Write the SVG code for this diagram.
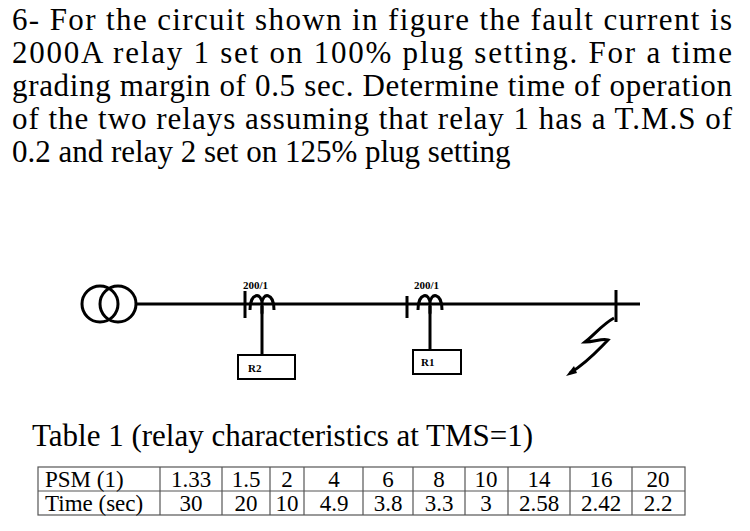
<svg xmlns="http://www.w3.org/2000/svg" width="750" height="531" viewBox="0 0 750 531">
<style>
.t{font-family:"Liberation Serif",serif;font-size:31px;fill:#000}
.s{font-family:"Liberation Serif",serif;font-size:23px;fill:#000;text-anchor:middle}
.lb{font-family:"Liberation Serif",serif;font-size:11px;font-weight:bold;fill:#000}
.k{stroke:#000;fill:none;stroke-width:3}
.b{stroke:#000;fill:#fff;stroke-width:2}
.g{stroke:#555;stroke-width:1.2;fill:none}
</style>
<rect width="750" height="531" fill="#fff"/>
<g id="problem">
<text class="t" x="12" y="30" textLength="720" lengthAdjust="spacing">6- For the circuit shown in figure the fault current is</text>
<text class="t" x="12" y="63" textLength="720" lengthAdjust="spacing">2000A relay 1 set on 100% plug setting. For a time</text>
<text class="t" x="12" y="96" textLength="720" lengthAdjust="spacing">grading margin of 0.5 sec. Determine time of operation</text>
<text class="t" x="12" y="129" textLength="720" lengthAdjust="spacing">of the two relays assuming that relay 1 has a T.M.S of</text>
<text class="t" x="12" y="162">0.2 and relay 2 set on 125% plug setting</text>
</g>
<g id="connectors">
<line class="k" x1="136" y1="304" x2="640" y2="304" stroke-width="2.5"/>
<line class="k" x1="262" y1="306" x2="262" y2="356" stroke-width="1.5"/>
<line class="k" x1="430" y1="306" x2="430" y2="351" stroke-width="1.5"/>
</g>
<g id="transformer">
<circle class="k" cx="100" cy="304" r="18"/>
<circle class="k" cx="118" cy="304" r="18"/>
</g>
<g id="bus1"><line class="k" x1="245" y1="291" x2="245" y2="318" stroke-width="4"/></g>
<g id="ct2">
<path class="k" stroke-width="2" d="M250 310 C250 292 262 292 262 304 C262 316 262 316 262 304 C262 292 274 292 274 310"/>
<text class="lb" x="243" y="289">200/1</text>
</g>
<g id="r2"><rect class="b" x="238" y="355" width="57" height="24"/><text class="lb" x="248" y="372">R2</text></g>
<g id="bus2"><line class="k" x1="407" y1="296" x2="407" y2="318" stroke-width="4"/></g>
<g id="ct1">
<path class="k" stroke-width="2" d="M418 310 C418 292 430 292 430 304 C430 316 430 316 430 304 C430 292 442 292 442 310"/>
<text class="lb" x="414" y="289">200/1</text>
</g>
<g id="r1"><rect class="b" x="413" y="350" width="48" height="24"/><text class="lb" x="421" y="366">R1</text></g>
<g id="bus3"><line class="k" x1="616" y1="290" x2="616" y2="322" stroke-width="4"/></g>
<g id="fault">
<path class="k" stroke-width="2" d="M614 318 C603 324 595 334 585 342 C595 342 602 338 608 340 C598 350 588 362 570 373"/>
<path d="M566 376 L574 366 L577 373 Z" fill="#000"/>
</g>
<g id="table">
<text class="t" x="32" y="446" font-size="27">Table 1 (relay characteristics at TMS=1)</text>
<rect class="g" x="38" y="467" width="647" height="48"/>
<line class="g" x1="38" y1="491" x2="685" y2="491"/>
<g class="g">
<line x1="160" y1="467" x2="160" y2="515"/><line x1="222" y1="467" x2="222" y2="515"/>
<line x1="270" y1="467" x2="270" y2="515"/><line x1="304" y1="467" x2="304" y2="515"/>
<line x1="363" y1="467" x2="363" y2="515"/><line x1="413" y1="467" x2="413" y2="515"/>
<line x1="465" y1="467" x2="465" y2="515"/><line x1="508" y1="467" x2="508" y2="515"/>
<line x1="570" y1="467" x2="570" y2="515"/><line x1="632" y1="467" x2="632" y2="515"/>
</g>
<text class="s" x="45" y="487" style="text-anchor:start">PSM (1)</text>
<text class="s" x="45" y="511" style="text-anchor:start">Time (sec)</text>
<text class="s" x="191" y="487">1.33</text><text class="s" x="246" y="487">1.5</text>
<text class="s" x="287" y="487">2</text><text class="s" x="334" y="487">4</text>
<text class="s" x="388" y="487">6</text><text class="s" x="439" y="487">8</text>
<text class="s" x="486" y="487">10</text><text class="s" x="539" y="487">14</text>
<text class="s" x="601" y="487">16</text><text class="s" x="658" y="487">20</text>
<text class="s" x="191" y="511">30</text><text class="s" x="246" y="511">20</text>
<text class="s" x="287" y="511">10</text><text class="s" x="334" y="511">4.9</text>
<text class="s" x="388" y="511">3.8</text><text class="s" x="439" y="511">3.3</text>
<text class="s" x="486" y="511">3</text><text class="s" x="539" y="511">2.58</text>
<text class="s" x="601" y="511">2.42</text><text class="s" x="658" y="511">2.2</text>
</g>
</svg>
